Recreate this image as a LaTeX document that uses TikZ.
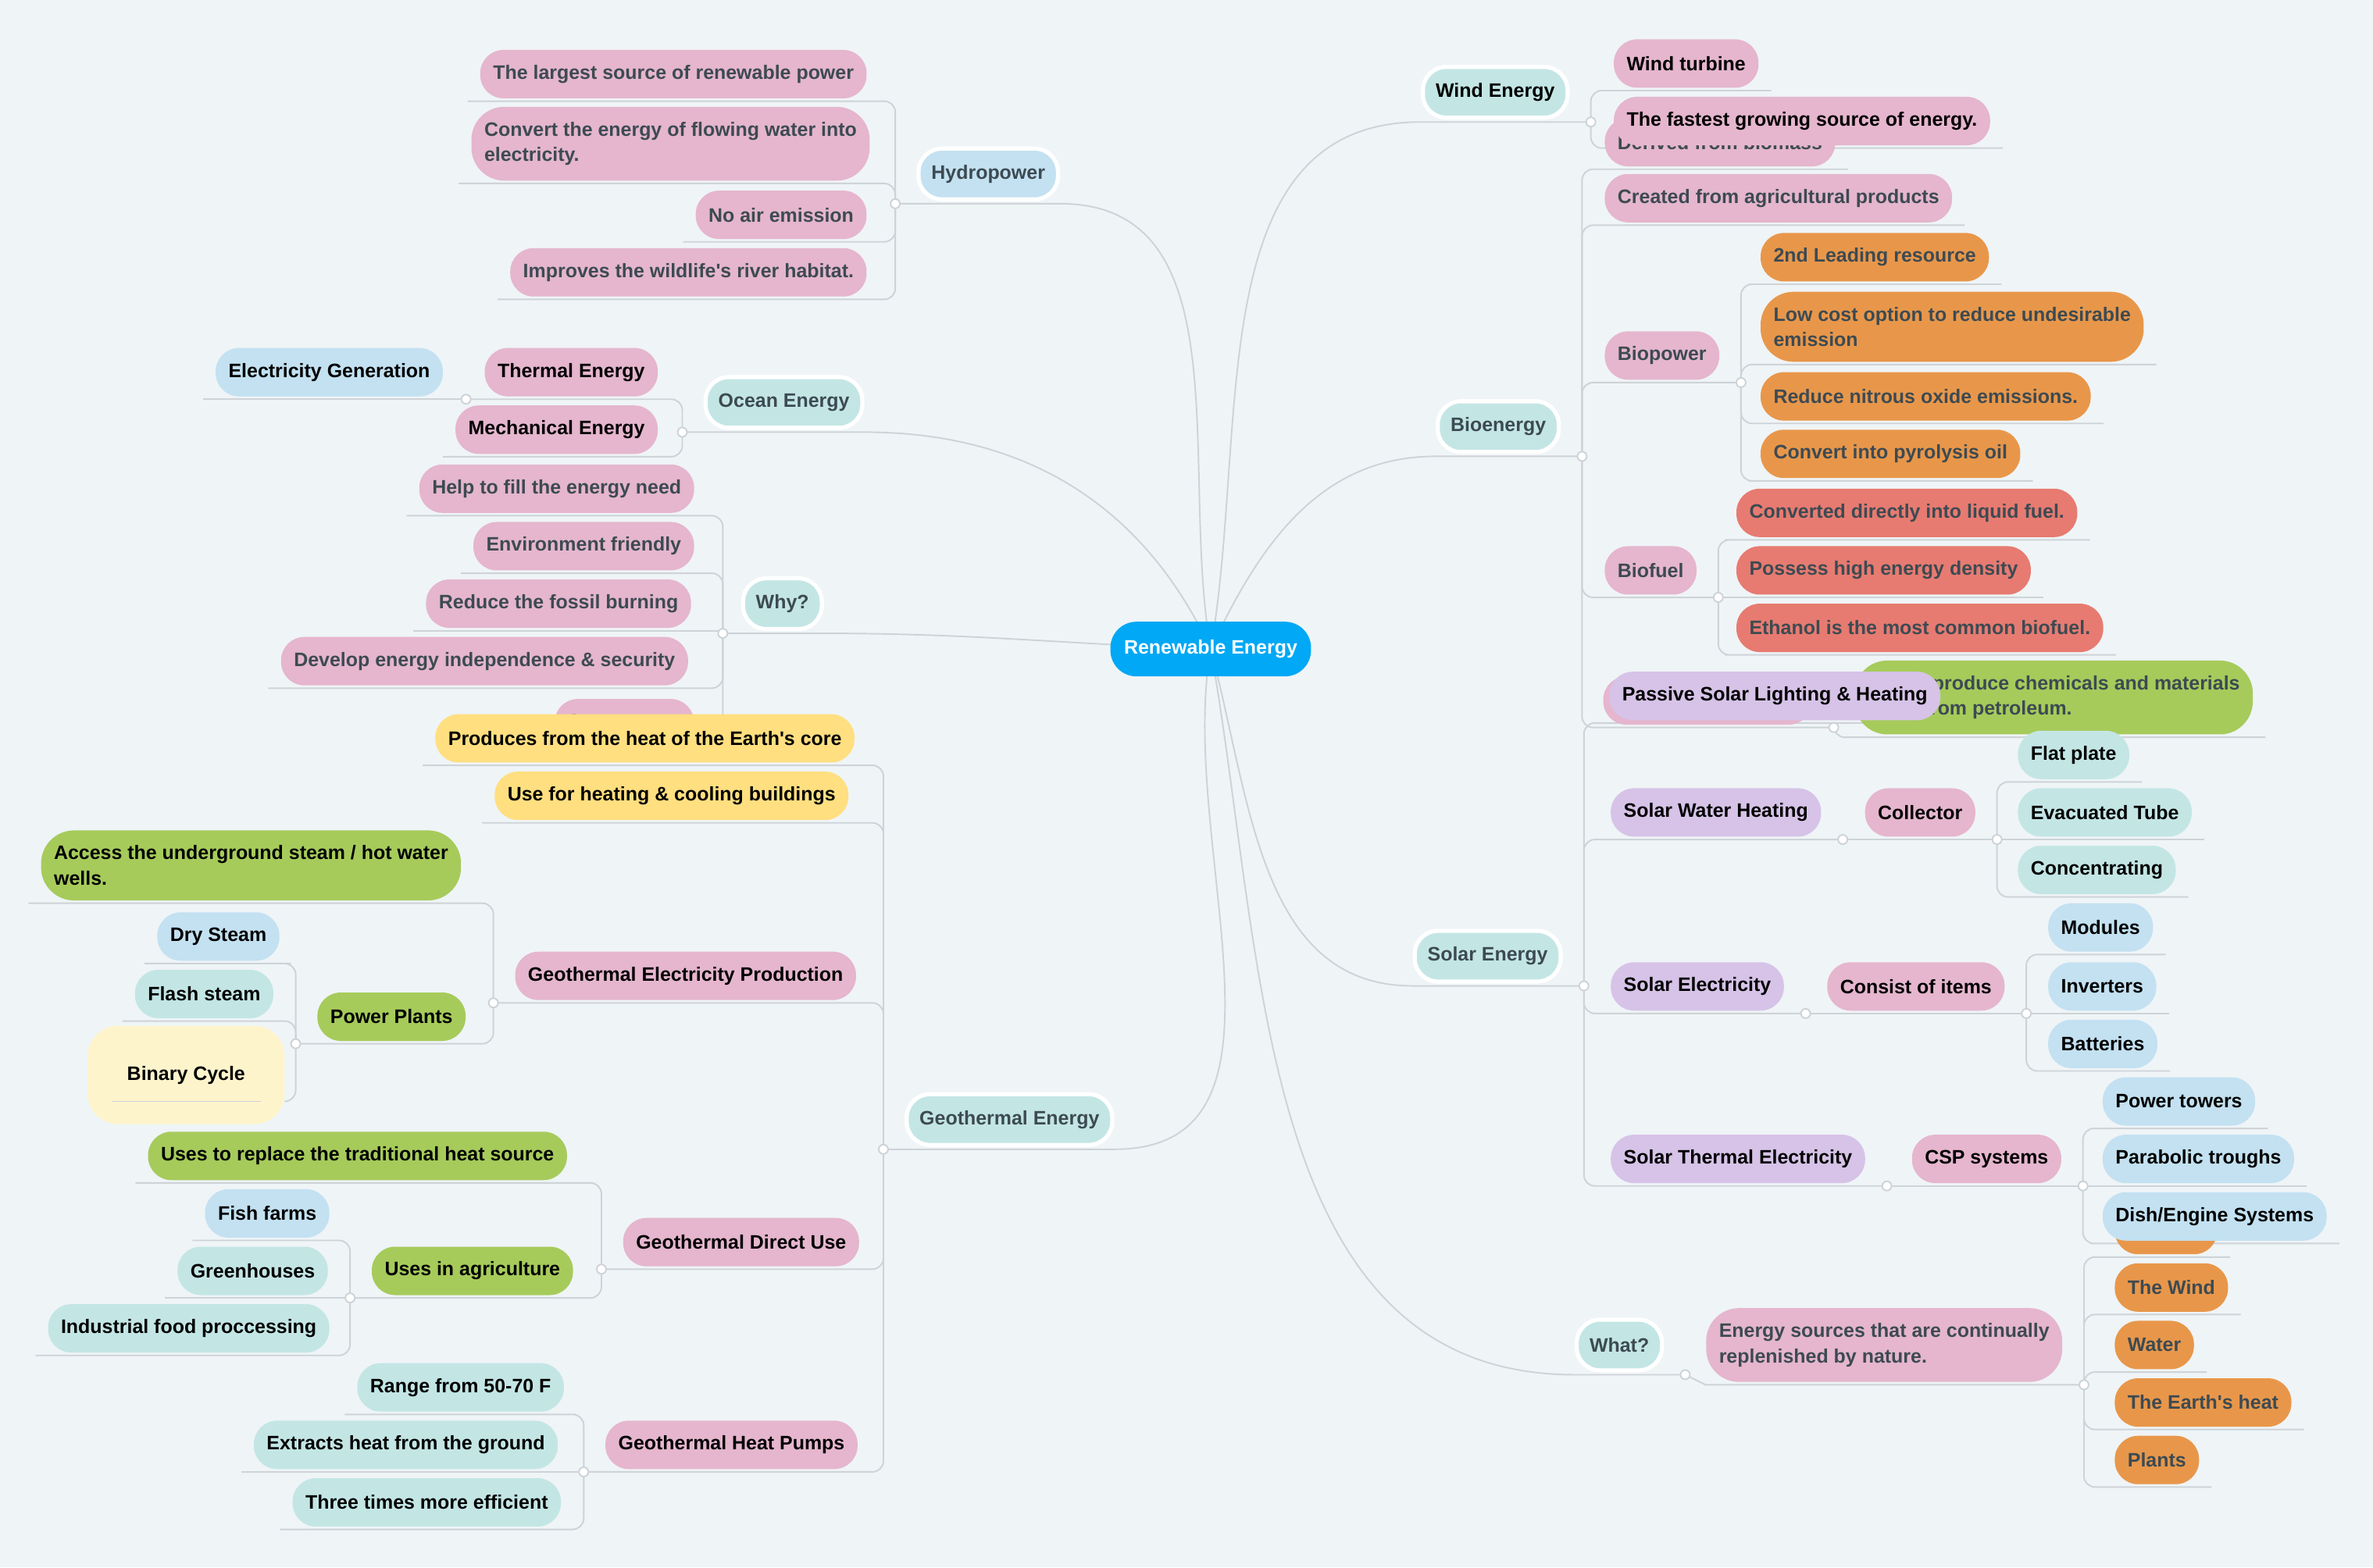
\documentclass[tikz,border=0pt]{standalone}
\usepackage{fontspec}
\setmainfont{Liberation Sans}
\usepackage{tikz}
\usetikzlibrary{calc,positioning}
\definecolor{paperfill}{HTML}{EFF4F7}
\definecolor{wire}{HTML}{CDD3D7}
\definecolor{rootblue}{HTML}{00A8F5}
\definecolor{mintfill}{HTML}{C3E6E5}
\definecolor{skyfill}{HTML}{C3E1F1}
\definecolor{rosefill}{HTML}{E5B6CE}
\definecolor{amberfill}{HTML}{E8974A}
\definecolor{coralfill}{HTML}{E77B71}
\definecolor{limefill}{HTML}{A6CB5B}
\definecolor{sunfill}{HTML}{FFDF80}
\definecolor{creamfill}{HTML}{FEF4CC}
\definecolor{lilacfill}{HTML}{D6C3E7}
\definecolor{slatetext}{HTML}{3D4A52}
\pgfdeclarelayer{paperlayer}
\pgfdeclarelayer{wirelayer}
\pgfsetlayers{paperlayer,wirelayer,main}

\begin{document}
\begin{tikzpicture}[
  x=0.019375cm,y=-0.019375cm,
  font=\fontsize{7.1}{9.3}\selectfont\bfseries,
  topic/.style={rectangle,rounded corners=8.5pt,inner xsep=0.165cm,inner ysep=5.5pt,minimum height=0.62cm,text=slatetext,align=left},
  pair/.style={rounded corners=12pt},
  inked/.style={text=black},
  mainidea/.style={topic,draw=white,line width=1.5pt,minimum height=0.65cm},
  mint/.style={fill=mintfill},
  sky/.style={fill=skyfill},
  rose/.style={fill=rosefill},
  amber/.style={fill=amberfill},
  coral/.style={fill=coralfill},
  lime/.style={fill=limefill},
  sunny/.style={fill=sunfill},
  cream/.style={fill=creamfill},
  lilac/.style={fill=lilacfill},
  link/.style={draw=wire,line width=0.55pt},
  joint/.style={circle,draw=wire,fill=white,line width=0.55pt,inner sep=0pt,minimum size=0.12cm},
]
\begin{pgfonlayer}{paperlayer}
\fill[paperfill] (0,0) rectangle (1568,1036);
\end{pgfonlayer}
\useasboundingbox (0,0) rectangle (1568,1036);

% root and main ideas
\node[topic,fill=rootblue,text=white,minimum height=0.7cm,rounded corners=9.5pt,inner xsep=0.175cm] (re) at (800,429) {Renewable Energy};
\node[mainidea,mint,inked] (wind) at (988,61) {Wind Energy};
\node[mainidea,mint] (bio) at (990,282) {Bioenergy};
\node[mainidea,mint] (sol) at (983,632) {Solar Energy};
\node[mainidea,mint] (what) at (1070,889) {What?};
\node[mainidea,sky] (hyd) at (653,115) {Hydropower};
\node[mainidea,mint] (ocean) at (518,266) {Ocean Energy};
\node[mainidea,mint] (why) at (517,399) {Why?};
\node[mainidea,mint] (geo) at (667,740) {Geothermal Energy};
\coordinate (jwind) at ($(wind.south east)+(14,1.5)$);
\coordinate (jbio) at ($(bio.south east)+(14,1.5)$);
\coordinate (jsol) at ($(sol.south east)+(14,1.5)$);
\coordinate (jwhat) at ($(what.south east)+(14,1.5)$);
\coordinate (jhyd) at ($(hyd.south west)+(-14,1.5)$);
\coordinate (jocean) at ($(ocean.south west)+(-14,1.5)$);
\coordinate (jwhy) at ($(why.south west)+(-12,1.5)$);
\coordinate (jgeo) at ($(geo.south west)+(-14,1.5)$);

% Bioenergy
\node[topic,rose,anchor=west] (b1) at (1060,94) {Derived from biomass};
\node[topic,rose,anchor=west] (b2) at (1060,131) {Created from agricultural products};
\node[topic,rose,anchor=west] (bp) at (1060,235) {Biopower};
\coordinate (jbp) at ($(bp.south east)+(14,1.5)$);
\node[topic,amber,anchor=west] (bp1) at (1163,170) {2nd Leading resource};
\node[topic,amber,pair,anchor=west] (bp2) at (1163,216) {Low cost option to reduce undesirable\\emission};
\node[topic,amber,anchor=west] (bp3) at (1163,262) {Reduce nitrous oxide emissions.};
\node[topic,amber,anchor=west] (bp4) at (1163,300) {Convert into pyrolysis oil};
\node[topic,rose,anchor=west] (bf) at (1060,377) {Biofuel};
\coordinate (jbf) at ($(bf.south east)+(14,1.5)$);
\node[topic,coral,anchor=west] (bf1) at (1147,339) {Converted directly into liquid fuel.};
\node[topic,coral,anchor=west] (bf2) at (1147,377) {Possess high energy density};
\node[topic,coral,anchor=west] (bf3) at (1147,415) {Ethanol is the most common biofuel.};
\node[topic,rose,anchor=west] (bx) at (1059,463) {Bio-based products};
\coordinate (jbx) at ($(bx.south east)+(14,1.5)$);
\node[topic,lime,pair,anchor=west] (bx1) at (1225,461) {Use to produce chemicals and materials\\made from petroleum.};

% Wind Energy
\node[topic,rose,inked,anchor=west] (wt) at (1066,42) {Wind turbine};
\node[topic,rose,inked,anchor=west] (wf) at (1066,80) {The fastest growing source of energy.};

% What?
\node[topic,rose,pair,anchor=west] (w1) at (1127,889) {Energy sources that are continually\\replenished by nature.};
\coordinate (jw1) at ($(w1.south east)+(14,1.5)$);
\node[topic,amber,anchor=west] (wa) at (1397,813) {The Sun};
\node[topic,amber,anchor=west] (wb) at (1397,851) {The Wind};
\node[topic,amber,anchor=west] (wc) at (1397,889) {Water};
\node[topic,amber,anchor=west] (wd) at (1397,927) {The Earth\textquotesingle s heat};
\node[topic,amber,anchor=west] (we) at (1397,965) {Plants};

% Solar Energy
\node[topic,lilac,inked,anchor=west] (s1) at (1063,460) {Passive Solar Lighting \& Heating};
\node[topic,lilac,inked,anchor=west] (s2) at (1064,537) {Solar Water Heating};
\coordinate (js2) at ($(s2.south east)+(14,1.5)$);
\node[topic,rose,inked,anchor=west] (s2a) at (1232,537) {Collector};
\coordinate (js2a) at ($(s2a.south east)+(14,1.5)$);
\node[topic,mint,inked,anchor=west] (s2a1) at (1333,499) {Flat plate};
\node[topic,mint,inked,anchor=west] (s2a2) at (1333,537) {Evacuated Tube};
\node[topic,mint,inked,anchor=west] (s2a3) at (1333,575) {Concentrating};
\node[topic,lilac,inked,anchor=west] (s3) at (1064,652) {Solar Electricity};
\coordinate (js3) at ($(s3.south east)+(14,1.5)$);
\node[topic,rose,inked,anchor=west] (s3a) at (1207,652) {Consist of items};
\coordinate (js3a) at ($(s3a.south east)+(14,1.5)$);
\node[topic,sky,inked,anchor=west] (s3a1) at (1353,613) {Modules};
\node[topic,sky,inked,anchor=west] (s3a2) at (1353,652) {Inverters};
\node[topic,sky,inked,anchor=west] (s3a3) at (1353,690) {Batteries};
\node[topic,lilac,inked,anchor=west] (s4) at (1064,766) {Solar Thermal Electricity};
\coordinate (js4) at ($(s4.south east)+(14,1.5)$);
\node[topic,rose,inked,anchor=west] (s4a) at (1263,766) {CSP systems};
\coordinate (js4a) at ($(s4a.south east)+(14,1.5)$);
\node[topic,sky,inked,anchor=west] (s4a1) at (1389,728) {Power towers};
\node[topic,sky,inked,anchor=west] (s4a2) at (1389,766) {Parabolic troughs};
\node[topic,sky,inked,anchor=west] (s4a3) at (1389,804) {Dish/Engine Systems};

% Hydropower
\node[topic,rose,anchor=east] (h1) at (573,49) {The largest source of renewable power};
\node[topic,rose,pair,anchor=east] (h2) at (575,95) {Convert the energy of flowing water into\\electricity.};
\node[topic,rose,anchor=east] (h3) at (573,142) {No air emission};
\node[topic,rose,anchor=east] (h4) at (573,180) {Improves the wildlife\textquotesingle s river habitat.};

% Ocean Energy
\node[topic,rose,inked,anchor=east] (o1) at (435,246) {Thermal Energy};
\coordinate (jo1) at ($(o1.south west)+(-12,1.5)$);
\node[topic,sky,inked,anchor=east] (o1a) at (293,246) {Electricity Generation};
\node[topic,rose,inked,anchor=east] (o2) at (435,284) {Mechanical Energy};

% Why?
\node[topic,rose,anchor=east] (y1) at (459,323) {Help to fill the energy need};
\node[topic,rose,anchor=east] (y2) at (459,361) {Environment friendly};
\node[topic,rose,anchor=east] (y3) at (457,399) {Reduce the fossil burning};
\node[topic,rose,anchor=east] (y4) at (455,437) {Develop energy independence \& security};
\node[topic,rose,anchor=east] (y5) at (459,478) {Save money};

% Geothermal Energy
\node[topic,sunny,inked,anchor=east] (g1) at (565,488) {Produces from the heat of the Earth\textquotesingle s core};
\node[topic,sunny,inked,anchor=east] (g2) at (561,526) {Use for heating \& cooling buildings};
\node[topic,rose,inked,anchor=east] (g3) at (566,645) {Geothermal Electricity Production};
\coordinate (jg3) at ($(g3.south west)+(-14,1.5)$);
\node[topic,lime,inked,pair,anchor=east] (g3a) at (305,572) {Access the underground steam / hot water\\wells.};
\node[topic,lime,inked,anchor=east] (g3b) at (308,672) {Power Plants};
\coordinate (jg3b) at ($(g3b.south west)+(-14,1.5)$);
\node[topic,sky,inked,anchor=east] (g3b1) at (185,619) {Dry Steam};
\node[topic,mint,inked,anchor=east] (g3b2) at (181,657) {Flash steam};
\begin{pgfonlayer}{paperlayer}
\node[topic,cream,inked,rounded corners=11pt,minimum width=2.52cm,minimum height=1.26cm] (bc) at (123,710.5) {Binary Cycle};
\end{pgfonlayer}
\node[topic,rose,inked,anchor=east] (g4) at (568,821) {Geothermal Direct Use};
\coordinate (jg4) at ($(g4.south west)+(-14,1.5)$);
\node[topic,lime,inked,anchor=east] (g4a) at (375,764) {Uses to replace the traditional heat source};
\node[topic,lime,inked,anchor=east] (g4b) at (379,840) {Uses in agriculture};
\coordinate (jg4b) at ($(g4b.south west)+(-14,1.5)$);
\node[topic,sky,inked,anchor=east] (g4b1) at (218,802) {Fish farms};
\node[topic,mint,inked,anchor=east] (g4b2) at (217,840) {Greenhouses};
\node[topic,mint,inked,anchor=east] (g4b3) at (218,878) {Industrial food proccessing};
\node[topic,rose,inked,anchor=east] (g5) at (567,955) {Geothermal Heat Pumps};
\coordinate (jg5) at ($(g5.south west)+(-14,1.5)$);
\node[topic,mint,inked,anchor=east] (g5a) at (373,917) {Range from 50-70 F};
\node[topic,mint,inked,anchor=east] (g5b) at (369,955) {Extracts heat from the ground};
\node[topic,mint,inked,anchor=east] (g5c) at (371,993) {Three times more efficient};

\begin{pgfonlayer}{wirelayer}
% root to main ideas
\draw[link] (re.center) to[out=80,in=180] ($(wind.south west)+(0,1.5)$) -- (jwind);
\draw[link] (re.center) to[out=65,in=180] ($(bio.south west)+(0,1.5)$) -- (jbio);
\draw[link] (re.center) to[out=-75,in=180] ($(sol.south west)+(0,1.5)$) -- (jsol);
\draw[link] (re.center) to[out=-80,in=180] ($(what.south west)+(0,1.5)$) -- (jwhat);
\draw[link] (re.center) to[out=100,in=0] ($(hyd.south east)+(0,1.5)$) -- (jhyd);
\draw[link] (re.center) to[out=115,in=0] ($(ocean.south east)+(0,1.5)$) -- (jocean);
\draw[link] (re.center) to[out=178,in=0] ($(why.south east)+(0,1.5)$) -- (jwhy);
\draw[link] (re.center) to[out=-100,in=0] ($(geo.south east)+(0,1.5)$) -- (jgeo);
% right branches
\foreach \jt/\nd/\rad in {jwind/wt/4,jwind/wf/4,jbio/b1/4,jbio/b2/4,jbp/bp1/4,jbp/bp2/4,jbp/bp3/4,jbp/bp4/4,jbf/bf1/4,jbf/bf2/0,jbf/bf3/4,jbx/bx1/4,jsol/s1/4,js2a/s2a1/4,js2a/s2a2/0,js2a/s2a3/4,js3a/s3a1/4,js3a/s3a2/0,js3a/s3a3/4,js4a/s4a1/4,js4a/s4a2/0,js4a/s4a3/4,jw1/wa/4,jw1/wb/4,jw1/wc/4,jw1/wd/4,jw1/we/4}
  \draw[link,rounded corners=\rad pt] (\jt) |- ($(\nd.south west)+(0,1.5)$) -- ($(\nd.south east)+(8,1.5)$);
\foreach \jt/\nd/\kt/\rad in {jbio/bp/jbp/4,jbio/bf/jbf/4,jbio/bx/jbx/4,jsol/s2/js2/4,js2/s2a/js2a/0,jsol/s3/js3/4,js3/s3a/js3a/0,jsol/s4/js4/4,js4/s4a/js4a/0}
  \draw[link,rounded corners=\rad pt] (\jt) |- ($(\nd.south west)+(0,1.5)$) -- (\kt);
\draw[link] (jwhat) -- ($(w1.south west)+(0,1.5)$) -- (jw1);
% left branches
\foreach \jt/\nd/\rad in {jhyd/h1/4,jhyd/h2/4,jhyd/h3/4,jhyd/h4/4,jocean/o2/4,jo1/o1a/0,jwhy/y1/4,jwhy/y2/4,jwhy/y3/0,jwhy/y4/4,jwhy/y5/4,jgeo/g1/4,jgeo/g2/4,jg3/g3a/4,jg3b/g3b1/4,jg3b/g3b2/4,jg4/g4a/4,jg4b/g4b1/4,jg4b/g4b2/0,jg4b/g4b3/4,jg5/g5a/4,jg5/g5b/0,jg5/g5c/4}
  \draw[link,rounded corners=\rad pt] (\jt) |- ($(\nd.south east)+(0,1.5)$) -- ($(\nd.south west)+(-8,1.5)$);
\foreach \jt/\nd/\kt/\rad in {jocean/o1/jo1/4,jgeo/g3/jg3/4,jg3/g3b/jg3b/4,jgeo/g4/jg4/4,jg4/g4b/jg4b/4,jgeo/g5/jg5/4}
  \draw[link,rounded corners=\rad pt] (\jt) |- ($(\nd.south east)+(0,1.5)$) -- (\kt);
\draw[link,rounded corners=4pt] (jg3b) |- ($(bc.east)+(0,17.5)$);
\draw[link] ($(bc.east)+(-16,17.5)$) -- ($(bc.west)+(16,17.5)$);
\end{pgfonlayer}

% junction dots
\foreach \jt in {jwind,jbio,jbp,jbf,jbx,jsol,js2,js2a,js3,js3a,js4,js4a,jwhat,jw1,jhyd,jocean,jo1,jwhy,jgeo,jg3,jg3b,jg4,jg4b,jg5}
  \node[joint] at (\jt) {};
\end{tikzpicture}
\end{document}
